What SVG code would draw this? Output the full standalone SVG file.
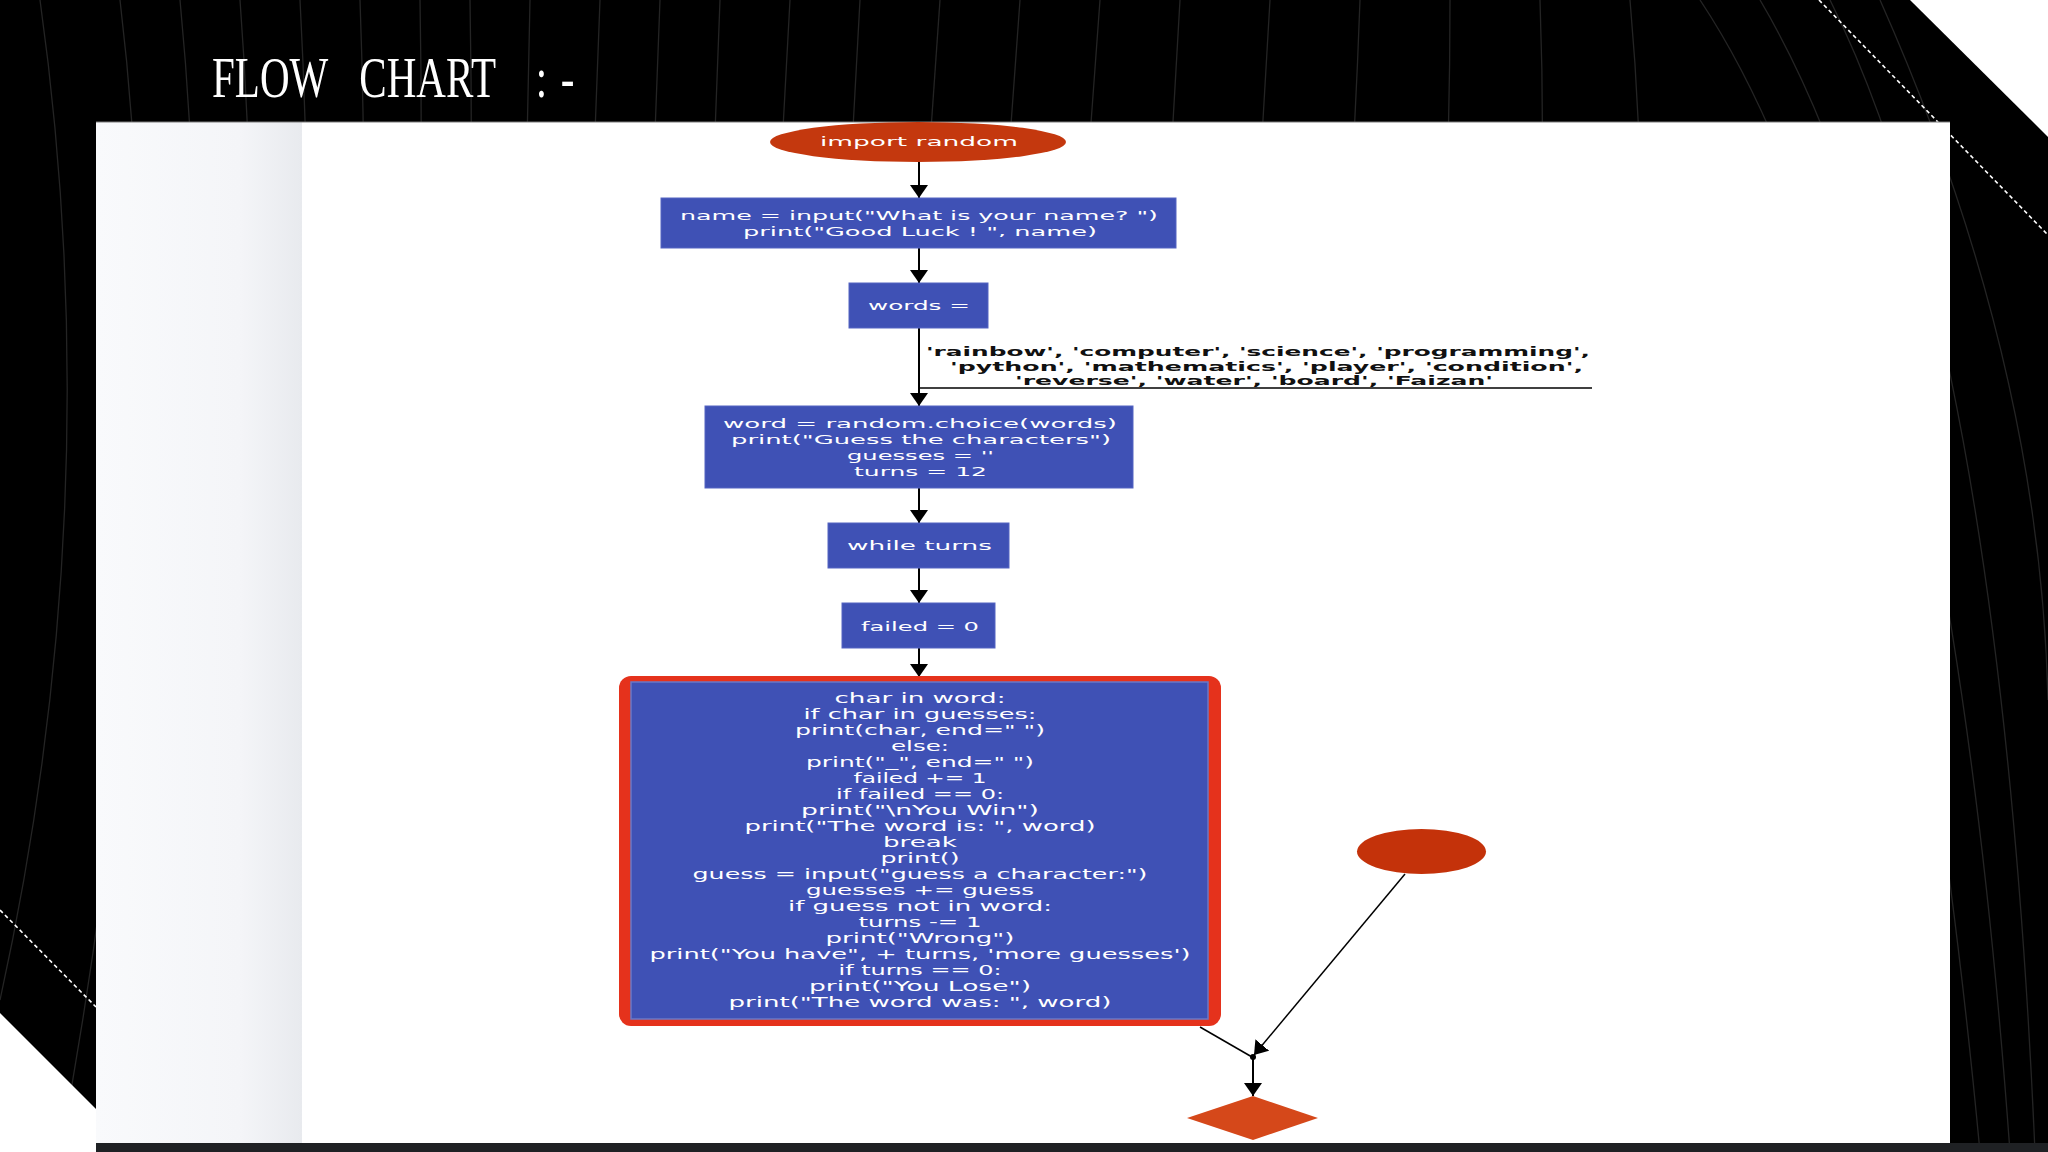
<svg xmlns="http://www.w3.org/2000/svg" width="2048" height="1152" viewBox="0 0 2048 1152">
<defs>
<style>
.contour{fill:none;stroke:#242424;stroke-width:1.3}
.title{font-family:"Liberation Serif","Times New Roman",serif;font-size:57px;fill:#ffffff;word-spacing:30px}
.box{fill:#3f51b5;stroke:#5564c2;stroke-width:1}
.bt{font-family:"DejaVu Sans","Verdana",sans-serif;font-size:13px;fill:#ffffff}
.bt5{font-family:"DejaVu Sans","Verdana",sans-serif;font-size:13.5px;fill:#ffffff}
.lbl{font-family:"DejaVu Sans","Verdana",sans-serif;font-size:12.5px;font-weight:700;fill:#111111}
.edge{fill:none;stroke:#000000;stroke-width:2}
.thin{fill:none;stroke:#000000;stroke-width:1.5}
.dash{fill:none;stroke:#ffffff;stroke-width:1.6;stroke-dasharray:4 3}
</style>
<marker id="arr" markerUnits="userSpaceOnUse" markerWidth="14" markerHeight="18" refX="13" refY="9" orient="auto">
<path d="M0,0 L13,9 L0,18 z" fill="#000000"/>
</marker>
<linearGradient id="strip" x1="0" y1="0" x2="1" y2="0">
<stop offset="0" stop-color="#f9fafc"/>
<stop offset="0.7" stop-color="#f4f5f8"/>
<stop offset="1" stop-color="#e8eaee"/>
</linearGradient>
</defs>

<g id="background">
<rect x="0" y="0" width="2048" height="1152" fill="#000000"/>
<path class="contour" d="M40,0 Q110,500 0,1000"/>
<path class="contour" d="M120,0 Q180,500 60,1152"/>
<path class="contour" d="M180,0 Q230,520 120,1152"/>
<path class="contour" d="M240,0 Q280,540 180,1152"/>
<path class="contour" d="M300,0 Q330,560 240,1152"/>
<path class="contour" d="M360,0 Q380,560 300,1152"/>
<path class="contour" d="M420,0 Q430,560 360,1152"/>
<path class="contour" d="M470,0 Q480,560 420,1152"/>
<path class="contour" d="M530,0 Q520,560 480,1152"/>
<path class="contour" d="M600,0 Q580,560 540,1152"/>
<path class="contour" d="M660,0 Q640,560 600,1152"/>
<path class="contour" d="M720,0 Q700,560 660,1152"/>
<path class="contour" d="M790,0 Q760,560 720,1152"/>
<path class="contour" d="M860,0 Q830,560 790,1152"/>
<path class="contour" d="M940,0 Q900,560 860,1152"/>
<path class="contour" d="M1020,0 Q980,560 930,1152"/>
<path class="contour" d="M1100,0 Q1060,560 1000,1152"/>
<path class="contour" d="M1180,0 Q1150,560 1080,1152"/>
<path class="contour" d="M1270,0 Q1240,560 1160,1152"/>
<path class="contour" d="M1360,0 Q1340,560 1240,1152"/>
<path class="contour" d="M1450,0 Q1450,560 1330,1152"/>
<path class="contour" d="M1540,0 Q1560,560 1420,1152"/>
<path class="contour" d="M1630,0 Q1680,560 1510,1152"/>
<path class="contour" d="M1700,0 Q1900,300 1980,1152"/>
<path class="contour" d="M1760,0 Q1950,320 2010,1152"/>
<path class="contour" d="M1830,0 Q2000,340 2035,1152"/>
<path class="contour" d="M1880,0 Q2040,360 2048,700"/>
<polygon points="1910,0 2048,0 2048,137" fill="#ffffff"/>
<polygon points="0,1013 96,1109 96,1152 0,1152" fill="#ffffff"/>
<line class="dash" x1="1819" y1="0" x2="2048" y2="235"/>
<line class="dash" x1="0" y1="910" x2="96" y2="1007"/>
</g>

<g id="title">
<text class="title" transform="translate(212,97) scale(0.72,1)" x="0" y="0">FLOW CHART <tspan dx="12">:</tspan><tspan dx="19">-</tspan></text>
</g>

<g id="panel">
<rect x="96" y="122" width="1854" height="1021" fill="#ffffff"/>
<rect x="96" y="122" width="206" height="1021" fill="url(#strip)"/>
<line x1="96" y1="122" x2="1950" y2="122" stroke="#7a7a7a" stroke-width="1"/>
<rect x="96" y="1143" width="1952" height="9" fill="#1f2124"/>
</g>

<g id="connectors">
<path class="edge" d="M919,162 V198" marker-end="url(#arr)"/>
<path class="edge" d="M919,248 V283" marker-end="url(#arr)"/>
<path class="edge" d="M919,328 V406" marker-end="url(#arr)"/>
<path class="thin" d="M919,388 H1592"/>
<path class="edge" d="M919,488 V523" marker-end="url(#arr)"/>
<path class="edge" d="M919,568 V603" marker-end="url(#arr)"/>
<path class="edge" d="M919,648 V677" marker-end="url(#arr)"/>
<path class="thin" d="M1200,1027 L1252,1057"/>
<path class="thin" d="M1405,874 L1254,1055" marker-end="url(#arr)"/>
<circle cx="1253" cy="1057" r="3" fill="#000000"/>
<path class="edge" d="M1253,1057 V1096" marker-end="url(#arr)"/>
<g id="label-words">
<text class="lbl" x="926" y="356" textLength="664" lengthAdjust="spacingAndGlyphs">'rainbow', 'computer', 'science', 'programming',</text>
<text class="lbl" x="950" y="370.5" textLength="633" lengthAdjust="spacingAndGlyphs">'python', 'mathematics', 'player', 'condition',</text>
<text class="lbl" x="1015" y="385" textLength="478" lengthAdjust="spacingAndGlyphs">'reverse', 'water', 'board', 'Faizan'</text>
</g>
</g>

<g id="node-import">
<ellipse cx="918" cy="142" rx="148" ry="20" fill="#c4380e"/>
<text class="bt" x="820" y="146" textLength="198" lengthAdjust="spacingAndGlyphs">import random</text>
</g>

<g id="node-name">
<rect class="box" x="661" y="198" width="515" height="50"/>
<text class="bt" x="680" y="220" textLength="478" lengthAdjust="spacingAndGlyphs">name = input("What is your name? ")</text>
<text class="bt" x="743" y="236" textLength="354" lengthAdjust="spacingAndGlyphs">print("Good Luck ! ", name)</text>
</g>

<g id="node-words">
<rect class="box" x="849" y="283" width="139" height="45"/>
<text class="bt" x="868" y="310" textLength="102" lengthAdjust="spacingAndGlyphs">words =</text>
</g>

<g id="node-choice">
<rect class="box" x="705" y="406" width="428" height="82"/>
<text class="bt" x="723" y="428" textLength="394" lengthAdjust="spacingAndGlyphs">word = random.choice(words)</text>
<text class="bt" x="731" y="444" textLength="380" lengthAdjust="spacingAndGlyphs">print("Guess the characters")</text>
<text class="bt" x="847" y="460" textLength="147" lengthAdjust="spacingAndGlyphs">guesses = ''</text>
<text class="bt" x="854" y="476" textLength="133" lengthAdjust="spacingAndGlyphs">turns = 12</text>
</g>

<g id="node-while">
<rect class="box" x="828" y="523" width="181" height="45"/>
<text class="bt" x="847" y="550" textLength="145" lengthAdjust="spacingAndGlyphs">while turns</text>
</g>

<g id="node-failed">
<rect class="box" x="842" y="603" width="153" height="45"/>
<text class="bt" x="861" y="631" textLength="118" lengthAdjust="spacingAndGlyphs">failed = 0</text>
</g>

<g id="node-loop">
<rect x="619" y="676" width="602" height="350" rx="12" ry="12" fill="#e5321c"/>
<rect x="631" y="682" width="577" height="337" fill="#3f51b5" stroke="#6a78c8" stroke-width="1.5"/>
<text class="bt5" x="834.5" y="703" textLength="171" lengthAdjust="spacingAndGlyphs">char in word:</text>
<text class="bt5" x="803.5" y="719" textLength="233" lengthAdjust="spacingAndGlyphs">if char in guesses:</text>
<text class="bt5" x="795" y="735" textLength="250" lengthAdjust="spacingAndGlyphs">print(char, end=" ")</text>
<text class="bt5" x="891" y="751" textLength="58" lengthAdjust="spacingAndGlyphs">else:</text>
<text class="bt5" x="806" y="767" textLength="228" lengthAdjust="spacingAndGlyphs">print("_", end=" ")</text>
<text class="bt5" x="853.5" y="783" textLength="133" lengthAdjust="spacingAndGlyphs">failed += 1</text>
<text class="bt5" x="836" y="799" textLength="168" lengthAdjust="spacingAndGlyphs">if failed == 0:</text>
<text class="bt5" x="801" y="815" textLength="238" lengthAdjust="spacingAndGlyphs">print("\nYou Win")</text>
<text class="bt5" x="744.5" y="831" textLength="351" lengthAdjust="spacingAndGlyphs">print("The word is: ", word)</text>
<text class="bt5" x="883" y="847" textLength="74" lengthAdjust="spacingAndGlyphs">break</text>
<text class="bt5" x="880.5" y="863" textLength="79" lengthAdjust="spacingAndGlyphs">print()</text>
<text class="bt5" x="692.5" y="879" textLength="455" lengthAdjust="spacingAndGlyphs">guess = input("guess a character:")</text>
<text class="bt5" x="806" y="895" textLength="228" lengthAdjust="spacingAndGlyphs">guesses += guess</text>
<text class="bt5" x="788" y="911" textLength="264" lengthAdjust="spacingAndGlyphs">if guess not in word:</text>
<text class="bt5" x="858.5" y="927" textLength="123" lengthAdjust="spacingAndGlyphs">turns -= 1</text>
<text class="bt5" x="825.5" y="943" textLength="189" lengthAdjust="spacingAndGlyphs">print("Wrong")</text>
<text class="bt5" x="649.5" y="959" textLength="541" lengthAdjust="spacingAndGlyphs">print("You have", + turns, 'more guesses')</text>
<text class="bt5" x="838.5" y="975" textLength="163" lengthAdjust="spacingAndGlyphs">if turns == 0:</text>
<text class="bt5" x="809" y="991" textLength="222" lengthAdjust="spacingAndGlyphs">print("You Lose")</text>
<text class="bt5" x="728.5" y="1007" textLength="383" lengthAdjust="spacingAndGlyphs">print("The word was: ", word)</text>
</g>

<g id="node-end-ellipse">
<ellipse cx="1421.5" cy="851.5" rx="64.5" ry="22.5" fill="#c4320a"/>
</g>

<g id="node-diamond">
<polygon points="1253,1096 1318,1118 1253,1140 1187,1118" fill="#d5481a"/>
</g>
</svg>
